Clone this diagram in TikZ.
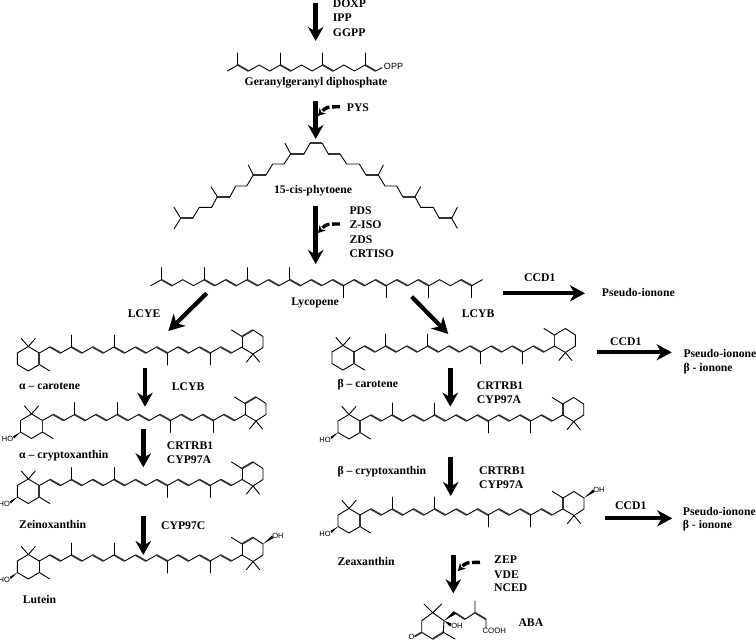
\documentclass[tikz,border=0pt]{standalone}
\usepackage{fontspec}
\setmainfont{Liberation Serif}
\newfontfamily\labelsans{Liberation Sans}
\usetikzlibrary{arrows.meta}
\tikzset{
  bond/.style={line width=0.9pt,line join=miter,line cap=round},
  dblbond/.style={line width=1.8pt,draw=black!80},
  lbl/.style={font=\bfseries\fontsize{11.7}{13}\selectfont,inner sep=0pt,anchor=west},
  lblc/.style={font=\bfseries\fontsize{11.7}{13}\selectfont,inner sep=0pt,anchor=center},
  atom/.style={font=\labelsans\fontsize{7.5}{8}\selectfont,inner sep=0pt},
  rxn/.style={line width=4.6pt,-{Stealth[length=14pt,width=15.5pt,inset=4.5pt]}},
  rxnd/.style={line width=4.2pt,-{Stealth[length=16pt,width=17pt,inset=5pt]}},
  rxnh/.style={line width=4pt,-{Stealth[length=15pt,width=16pt,inset=4.5pt]}},
  mod/.style={line width=3.4pt,dash pattern=on 8pt off 2.5pt,-{Stealth[length=7pt,width=8pt,inset=2pt]}}
}
% polyene chain of a carotenoid, from ring carbon C6 to C6'
\newcommand\polyene[3]{%
  \begin{scope}[shift={(#1,#2)},xscale=#3]
    \draw[bond] (0,0)--(1,-6) (2,0)--(3,-6) (4,0)--(5,-6) (6,0)--(7,-6) (8,0)--(9,-6)
                (10,0)--(11,-6) (12,0)--(13,-6) (14,0)--(15,-6) (16,0)--(17,-6) (18,0)--(19,-6);
    \draw[dblbond] (1,-6)--(2,0) (3,-6)--(4,0) (5,-6)--(6,0) (7,-6)--(8,0) (9,-6)--(10,0)
                (11,-6)--(12,0) (13,-6)--(14,0) (15,-6)--(16,0) (17,-6)--(18,0);
    \draw[bond] (3,-6)--(3,-18) (7,-6)--(7,-18) (12,0)--(12,12) (16,0)--(16,12);
  \end{scope}}
% left ring; #3 = style of the C5-C6 bond
\newcommand\ringL[3]{%
  \begin{scope}[shift={(#1,#2)}]
    \draw[bond] (0,0)--(-11,-6.5)--(-22,0)--(-22,11.5)--(-11,18)--(0,11.5)--(10.5,18);
    \draw[#3] (0,0)--(0,11.5);
    \draw[bond] (-11,-6.5)--(-18,-14.5) (-11,-6.5)--(-4,-14.5);
  \end{scope}}
% hydroxyl of a left ring
\newcommand\hoL[3]{%
  \fill (#1-22,#2+11.5)--(#1-29.5,#2+15.8)--(#1-28.5,#2+18)--cycle;
  \node[atom] (#3) at (#1-35,#2+18.5) {HO};}
% right ring; #3 = C6'-C5' bond, #4 = C5'-C4' bond
\newcommand\ringR[4]{%
  \begin{scope}[shift={(#1,#2)}]
    \draw[#3] (0,0)--(0,-11);
    \draw[#4] (0,-11)--(11,-17.5);
    \draw[bond] (11,-17.5)--(21,-11)--(21,0)--(11,6.5)--(0,0);
    \draw[bond] (0,-11)--(-10.5,-17.5);
    \draw[bond] (11,6.5)--(4.5,14.5) (11,6.5)--(17.5,14.5);
  \end{scope}}
% hydroxyl of a right ring
\newcommand\ohR[3]{%
  \fill (#1+21,#2-11)--(#1+30,#2-19.5)--(#1+31.5,#2-17)--cycle;
  \node[atom] (#3) at (#1+36,#2-19) {OH};}
% thick reaction arrow between named end points
\newcommand\rxnarrow[6][rxn]{%
  \coordinate (#2s) at (#3,#4);
  \coordinate (#2e) at (#5,#6);
  \draw[#1] (#2s)--(#2e);}
\newcommand\modarrow[7]{%
  \coordinate (#1s) at (#2,#3);
  \coordinate (#1e) at (#6,#7);
  \draw[mod] (#1s) .. controls (#4,#5) and (#4,#5) .. (#1e);}
\begin{document}
\begin{tikzpicture}[x=1pt,y=-1pt]
\useasboundingbox (0,0) rectangle (756,640);

% ---------- geranylgeranyl diphosphate
\begin{scope}[shift={(227.3,71)},xscale=10.6]
  \draw[bond] (0,0)--(1,-6) (2,0)--(3,-6)--(4,0)--(5,-6) (6,0)--(7,-6)--(8,0)--(9,-6)
              (10,0)--(11,-6)--(12,0)--(13,-6) (14,0)--(14.6,-3.3);
  \draw[dblbond] (1,-6)--(2,0) (5,-6)--(6,0) (9,-6)--(10,0) (13,-6)--(14,0);
  \draw[bond] (1,-6)--(1,-18) (5,-6)--(5,-18) (9,-6)--(9,-18) (13,-6)--(13,-18);
\end{scope}
\node[atom,font=\labelsans\fontsize{9}{10}\selectfont] (opp) at (393.5,66) {OPP};

% ---------- 15-cis-phytoene
\draw[dblbond] (310,143.3)--(322.3,143.3)
  (290.7,154)--(304,154) (328.3,154)--(340,154)
  (217.3,196.7)--(230,196.7) (402.7,196.7)--(415,196.7)
  (180.7,218.3)--(192.7,218.3) (439.3,218.3)--(451.7,218.3)
  (253.3,175)--(266,175) (366,175)--(378.3,175);
\draw[bond] (304,154)--(310,143.3) (322.3,143.3)--(328.3,154)
  (290.7,154)--(284,164)--(272.7,164)--(266,175)
  (253.3,175)--(246.7,186)--(235.7,186)--(230,196.7)
  (217.3,196.7)--(211.7,207.3)--(199.3,207.3)--(192.7,218.3)
  (180.7,218.3)--(174,207.3) (180.7,218.3)--(174,229)
  (340,154)--(346.7,164)--(359.3,164)--(366,175)
  (378.3,175)--(385,186)--(396.7,186)--(402.7,196.7)
  (415,196.7)--(420.7,207.3)--(433.3,207.3)--(439.3,218.3)
  (451.7,218.3)--(457.3,207.3) (451.7,218.3)--(457.3,228.3)
  (290.7,154)--(285,143.3) (253.3,175)--(248.3,165) (217.3,196.7)--(211,186.7)
  (378.3,175)--(383.3,165) (415,196.7)--(420.7,186.7);

% ---------- lycopene
\begin{scope}[shift={(150.7,285.7)},xscale=10.7]
  \draw[bond] (0,0)--(1,-6) (2,0)--(3,-6)--(4,0)--(5,-6) (6,0)--(7,-6) (8,0)--(9,-6)
    (10,0)--(11,-6) (12,0)--(13,-6) (14,0)--(15,-6) (16,0)--(17,-6) (18,0)--(19,-6)
    (20,0)--(21,-6) (22,0)--(23,-6) (24,0)--(25,-6) (26,0)--(27,-6)--(28,0)--(29,-6) (30,0)--(31,-6);
  \draw[dblbond] (1,-6)--(2,0) (5,-6)--(6,0) (7,-6)--(8,0) (9,-6)--(10,0) (11,-6)--(12,0)
    (13,-6)--(14,0) (15,-6)--(16,0) (17,-6)--(18,0) (19,-6)--(20,0) (21,-6)--(22,0)
    (23,-6)--(24,0) (25,-6)--(26,0) (29,-6)--(30,0);
  \draw[bond] (1,-6)--(1,-18) (5,-6)--(5,-18) (9,-6)--(9,-18) (13,-6)--(13,-18)
    (18,0)--(18,12) (22,0)--(22,12) (26,0)--(26,12) (30,0)--(30,12);
\end{scope}

% ---------- left column
\polyene{39.3}{353}{10.67}
\ringL{39.3}{353}{dblbond}
\ringR{242}{347.5}{bond}{dblbond}

\polyene{42.5}{420.5}{10.67}
\ringL{42.5}{420.5}{dblbond}
\hoL{42.5}{420.5}{ho1}
\ringR{245}{414.5}{bond}{dblbond}

\polyene{39.3}{485.5}{10.67}
\ringL{39.3}{485.5}{dblbond}
\hoL{39.3}{485.5}{ho2}
\ringR{242}{479.5}{bond}{dblbond}

\polyene{39.3}{561}{10.67}
\ringL{39.3}{561}{bond}
\hoL{39.3}{561}{ho3}
\ringR{242}{555}{bond}{dblbond}
\ohR{242}{555}{oh3}

% ---------- right column
\polyene{354}{352}{10.55}
\ringL{354}{352}{dblbond}
\ringR{554.4}{346}{dblbond}{bond}

\polyene{360}{421}{10.67}
\ringL{360}{421}{dblbond}
\hoL{360}{421}{ho4}
\ringR{562.7}{415}{dblbond}{bond}

\polyene{360}{515}{10.67}
\ringL{360}{515}{dblbond}
\hoL{360}{515}{ho5}
\ringR{563}{509}{dblbond}{bond}
\ohR{563}{509}{oh5}

% ---------- ABA
\draw[bond] (432.7,612.7)--(424,604) (432.7,612.7)--(441.7,604)
  (432.7,612.7)--(421.7,620.7)--(421.7,632.3)--(432.7,639)
  (432.7,612.7)--(444,620.7)--(443.3,632.3)
  (443.3,632.3)--(455,639)
  (465,619.3)--(475,612.7)--(475,601)
  (486,619.3)--(486,628);
\draw[dblbond] (432.7,639)--(443.3,632.3) (421.7,632.3)--(414.5,636.5)
  (455,612.7)--(465,619.3) (475,612.7)--(486,619.3);
\fill (444,620.7)--(454,611)--(456,614)--cycle;
\fill (444,620.7)--(451.5,623.5)--(450,626.5)--cycle;
\node[atom] (ohaba) at (457,626) {OH};
\node[atom] (oxo) at (411.5,637) {O};
\node[atom,font=\labelsans\fontsize{7.8}{8}\selectfont] (cooh) at (494.3,631) {COOH};

% ---------- arrows
\rxnarrow{a1}{315.7}{3}{315.7}{41}
\rxnarrow{a2}{315.7}{101}{315.7}{139}
\rxnarrow{a3}{315.7}{206}{315.7}{264}
\rxnarrow[rxnd]{a4}{206.7}{293.3}{168.3}{331}
\rxnarrow[rxnd]{a5}{411.7}{296.7}{448.3}{334}
\rxnarrow[rxnh]{a6}{503.3}{293.3}{585}{293.3}
\rxnarrow[rxnh]{a7}{596.7}{352.3}{671.7}{352.3}
\rxnarrow[rxnh]{a8}{605}{518.3}{672.3}{518.3}
\rxnarrow{a9}{145}{368.3}{145}{406.7}
\rxnarrow{a10}{143.3}{429}{143.3}{467.3}
\rxnarrow{a11}{143.3}{516}{143.3}{555}
\rxnarrow{a12}{450.3}{368.3}{450.3}{406.7}
\rxnarrow{a13}{450.7}{457.3}{450.7}{496}
\rxnarrow{a14}{453.3}{555}{453.3}{593.3}
\modarrow{m1}{340}{106.7}{326}{107}{318}{116}
\modarrow{m2}{340}{224}{326}{224}{318}{233}
\modarrow{m3}{480}{562.3}{466}{562.5}{458}{571}

% ---------- labels
\node[lbl] (doxp) at (332.7,4) {DOXP};
\node[lbl] (ipp) at (332.7,17.7) {IPP};
\node[lbl] (ggpp) at (332.7,32.3) {GGPP};
\node[lblc] (gg) at (316,82.7) {Geranylgeranyl diphosphate};
\node[lbl] (pys) at (346.7,107.7) {PYS};
\node[lblc] (phy) at (313,191) {15-cis-phytoene};
\node[lbl] (pds) at (349.3,211) {PDS};
\node[lbl] (ziso) at (349.3,225) {Z-ISO};
\node[lbl] (zds) at (349.3,239.3) {ZDS};
\node[lbl] (crtiso) at (349.3,253.3) {CRTISO};
\node[lblc] (lyc) at (315,302.7) {Lycopene};
\node[lbl] (lcye) at (127.7,314) {LCYE};
\node[lbl] (lcyb1) at (461.7,314) {LCYB};
\node[lbl] (ccd1) at (524,277.7) {CCD1};
\node[lbl] (pi1) at (601.7,292.3) {Pseudo-ionone};
\node[lbl] (ccd2) at (610,341.7) {CCD1};
\node[lbl] (pi2) at (683.3,353.3) {Pseudo-ionone};
\node[lbl] (bi2) at (683.3,368.3) {β - ionone};
\node[lbl] (acar) at (19,386) {α – carotene};
\node[lbl] (lcyb2) at (171.7,386.7) {LCYB};
\node[lbl] (bcar) at (337.3,384.3) {β – carotene};
\node[lbl] (cr1) at (476.7,385.7) {CRTRB1};
\node[lbl] (cy1) at (476.7,400) {CYP97A};
\node[lbl] (cr2) at (166.7,446) {CRTRB1};
\node[lbl] (cy2) at (166.7,460) {CYP97A};
\node[lbl] (acry) at (19,456) {α – cryptoxanthin};
\node[lbl] (zein) at (19,524) {Zeinoxanthin};
\node[lbl] (cy7c) at (161,525.7) {CYP97C};
\node[lbl] (lut) at (22.7,599.3) {Lutein};
\node[lbl] (bcry) at (337.3,471.7) {β – cryptoxanthin};
\node[lbl] (cr3) at (479,471) {CRTRB1};
\node[lbl] (cy3) at (479,485) {CYP97A};
\node[lbl] (zea) at (337.3,561.7) {Zeaxanthin};
\node[lbl] (ccd3) at (615,505.7) {CCD1};
\node[lbl] (pi3) at (682.7,511.7) {Pseudo-ionone};
\node[lbl] (bi3) at (682.7,526) {β - ionone};
\node[lbl] (zep) at (494,559.3) {ZEP};
\node[lbl] (vde) at (494,574.3) {VDE};
\node[lbl] (nced) at (494,587.3) {NCED};
\node[lbl] (aba) at (518.3,622.7) {ABA};
\end{tikzpicture}
\end{document}
